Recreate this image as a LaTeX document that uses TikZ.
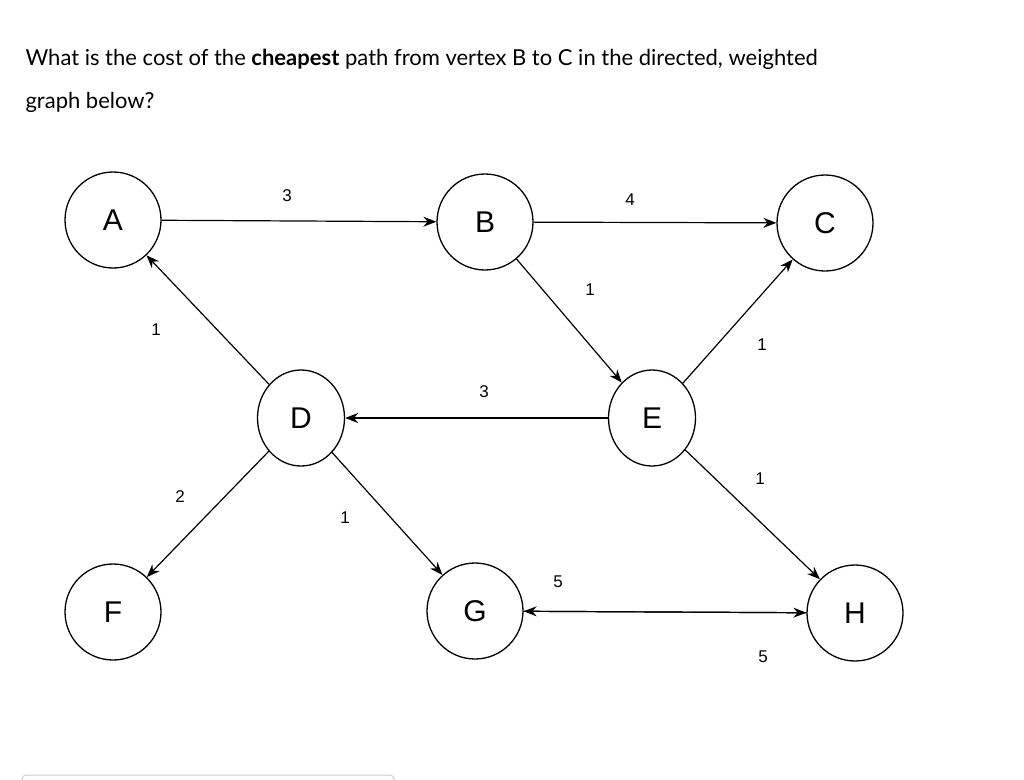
\documentclass[tikz,border=0pt]{standalone}
\usepackage{fontspec}
\setmainfont{Liberation Sans}
\newfontfamily\latofont{Lato}
\usetikzlibrary{arrows.meta,shapes.geometric}
\begin{document}
\begin{tikzpicture}[x=1pt,y=-1pt,
  vert/.style={draw,line width=1.3pt,circle,minimum size=96pt,inner sep=0pt,font=\fontsize{30}{30}\selectfont},
  vell/.style={draw,line width=1.3pt,ellipse,minimum width=87pt,minimum height=96pt,inner sep=0pt,font=\fontsize{30}{30}\selectfont},
  edge/.style={line width=1.2pt,-{Stealth[length=13pt,width=10pt]}},
  wt/.style={font=\fontsize{17}{17}\selectfont}]
\useasboundingbox (0,0) rectangle (1024,779);
\node[anchor=base west,font=\latofont\fontsize{22}{22}\selectfont] (q1) at (22,65) {What is the cost of the \textbf{cheapest} path from vertex B to C in the directed, weighted};
\node[anchor=base west,font=\latofont\fontsize{22}{22}\selectfont] (q2) at (22,108) {graph below?};
\node[vert] (A) at (113,220) {A};
\node[vert] (B) at (485,222) {B};
\node[vert] (C) at (825,223) {C};
\node[vell] (D) at (301,418) {D};
\node[vell] (E) at (652,418) {E};
\node[vert] (F) at (113,612) {F};
\node[vert] (G) at (475,611) {G};
\node[vert] (H) at (855,613) {H};
\draw[edge] (A) -- (B);
\draw[edge] (B) -- (C);
\draw[edge] (B) -- (E);
\draw[edge] (D) -- (A);
\draw[edge] (E) -- (D);
\draw[edge] (E) -- (C);
\draw[edge] (E) -- (H);
\draw[edge] (D) -- (F);
\draw[edge] (D) -- (G);
\draw[edge] (G) -- (H);
\draw[edge] (H) -- (G);
\node[wt] (w1) at (287,196) {3};
\node[wt] (w2) at (630,200) {4};
\node[wt] (w3) at (590,290) {1};
\node[wt] (w4) at (156,330) {1};
\node[wt] (w5) at (484,392) {3};
\node[wt] (w6) at (762,345) {1};
\node[wt] (w7) at (760,479) {1};
\node[wt] (w8) at (180,497) {2};
\node[wt] (w9) at (345,518) {1};
\node[wt] (w10) at (558,582) {5};
\node[wt] (w11) at (763,657) {5};
\draw[gray!40,line width=1pt,rounded corners=4pt] (22,790) -- (22,775) -- (394,775) -- (394,790);
\end{tikzpicture}
\end{document}
